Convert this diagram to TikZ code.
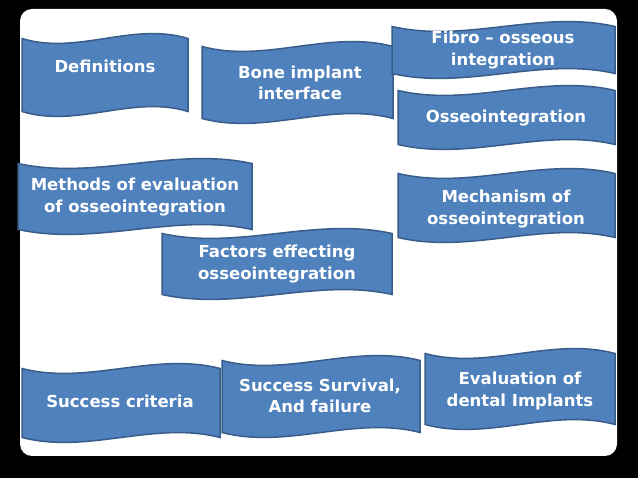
\documentclass[tikz,border=0pt]{standalone}
\usepackage{fontspec}
\setmainfont{DejaVu Sans}
\definecolor{bfill}{HTML}{4F81BD}
\definecolor{bline}{HTML}{385D8A}
\tikzset{wavestyle/.style={fill=bfill,draw=bline,line width=1.5pt},
 wtext/.style={text=white,font=\fontsize{16.5}{21.5}\selectfont\bfseries,align=center}}
\newcommand{\wavebox}[6]{%
 \pgfmathsetmacro{\wa}{8.5}%
 \pgfmathsetmacro{\ww}{#4-#2}%
 \pgfmathsetmacro{\tb}{#5-2*\wa}%
 \path[wavestyle] (#2,#3+\wa) .. controls ({#2+\ww/3},{#3+3*\wa}) and ({#2+2*\ww/3},{#3-\wa}) .. (#4,#3+\wa)
   -- (#4,\tb+\wa) .. controls ({#2+2*\ww/3},{\tb-\wa}) and ({#2+\ww/3},{\tb+3*\wa}) .. (#2,\tb+\wa) -- cycle;
}
\begin{document}
\begin{tikzpicture}[x=1pt,y=-1pt]
\fill[black] (0,0) rectangle (638,478);
\fill[white,rounded corners=12pt] (20,9) rectangle (617,456);
\wavebox{d}{22}{30}{188}{120}{}
\node[wtext] (d) at (105,66) {Definitions};
\wavebox{b}{202}{38}{393}{127}{}
\node[wtext] (b) at (300,83) {Bone implant\\interface};
\wavebox{f}{392}{18}{615}{82}{}
\node[wtext] (f) at (503,50) {Fibro – osseous\\integration};
\wavebox{o}{398}{82}{615}{153}{}
\node[wtext] (o) at (506,118) {Osseointegration};
\wavebox{m}{18}{155}{252}{238}{}
\node[wtext] (m) at (135,197) {Methods of evaluation\\of osseointegration};
\wavebox{me}{398}{165}{615}{246}{}
\node[wtext] (me) at (506,209) {Mechanism of\\osseointegration};
\wavebox{fa}{162}{225}{392}{303}{}
\node[wtext] (fa) at (277,264) {Factors effecting\\osseointegration};
\wavebox{s}{22}{360}{220}{446}{}
\node[wtext] (s) at (120,401) {Success criteria};
\wavebox{ss}{222}{352}{420}{441}{}
\node[wtext] (ss) at (320,396) {Success Survival,\\And failure};
\wavebox{e}{425}{345}{615}{433}{}
\node[wtext] (e) at (520,391) {Evaluation of\\dental Implants};
\end{tikzpicture}
\end{document}
